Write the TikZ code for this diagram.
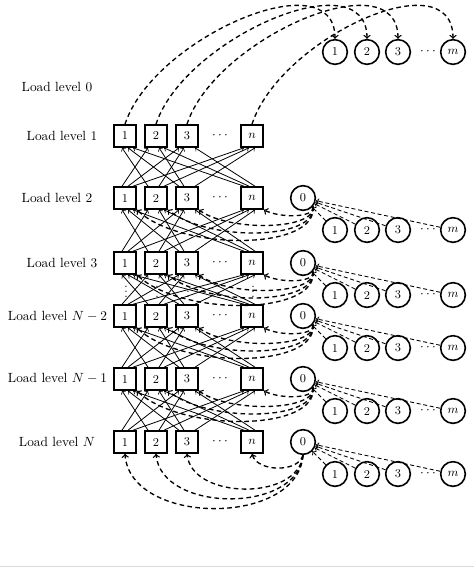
\documentclass[tikz,border=0pt]{standalone}
\usetikzlibrary{calc}
\begin{document}
\begin{tikzpicture}[x=0.75pt,y=-0.75pt,
  sq/.style={draw,line width=1.2pt,minimum size=16.5pt,inner sep=0pt,font=\small},
  cir/.style={draw,circle,line width=1.2pt,minimum size=18.5pt,inner sep=0pt,font=\small},
  lbl/.style={font=\normalsize,inner sep=0pt},
  dotsn/.style={inner sep=0pt},
  vdotsn/.style={inner sep=0pt,font=\small},
  arr/.style={->,line width=0.6pt},
  dsh/.style={->,line width=1pt,dash pattern=on 3.5pt off 2.5pt},
  thd/.style={->,line width=0.65pt,dash pattern=on 3pt off 2pt},
]
\useasboundingbox (0,0) rectangle (474,568);

% labels
\node[lbl] (l0) at (57,87) {Load level 0};
\node[lbl] (l1) at (62,136) {Load level 1};
\node[lbl] (l2) at (57,198) {Load level 2};
\node[lbl] (l3) at (62,263) {Load level 3};
\node[lbl] (l4) at (57.5,316) {Load level $N-2$};
\node[lbl] (l5) at (57.5,378) {Load level $N-1$};
\node[lbl] (l6) at (57,442) {Load level $N$};

% top circles (load level 0)
\foreach \i/\x/\t in {1/335/1,2/367/2,3/398/3,4/453/$m$}{
  \node[cir] (t-\i) at (\x,52) {\t};
}
\node[dotsn] (td) at (428,52) {$\cdots$};

% squares
\foreach \l/\y in {1/136,2/198,3/263,4/316,5/379,6/442}{
  \foreach \i/\x/\t in {1/125/1,2/156/2,3/187/3,4/252/$n$}{
    \node[sq] (s-\l-\i) at (\x,\y) {\t};
  }
  \node[dotsn] (sd-\l) at (220,\y) {$\cdots$};
}

% vertical dots
\foreach \i/\x in {1/126,2/157,3/188,4/253}{
  \node[vdotsn] (vd-\i) at (\x,288) {$\vdots$};
}

% circle 0 and circles 1..m
\foreach \l/\y in {2/198,3/263,4/316,5/379,6/442}{
  \node[cir] (z-\l) at (303,\y) {0};
  \foreach \i/\x/\t in {1/335/1,2/367/2,3/398/3,4/453/$m$}{
    \node[cir] (c-\l-\i) at (\x,\y+32) {\t};
  }
  \node[dotsn] (cd-\l) at (428,\y+32) {$\cdots$};
}

% solid arrows between levels
\foreach \u in {1,...,5}{
  \pgfmathtruncatemacro\lo{\u+1}
  \foreach \i/\oi in {1/-8,2/-3,3/3,4/8}{
    \foreach \j/\oj in {1/-8,2/-3,3/3,4/8}{
      \ifnum\i=\j\relax\else
        \draw[arr] ($(s-\lo-\i.north)+(\oj,0)$) -- ($(s-\u-\j.south)+(\oi,0)$);
      \fi
    }
  }
}

% level 1 -> level 0
\foreach \i in {1,...,4}{
  \draw[dsh] (s-1-\i.north) .. controls +(28,-86) and +(0,-80) .. (t-\i.north);
}

% middle levels: circle 0 -> squares
\foreach \l in {2,3,4,5}{
  \draw[dsh] (z-\l.-40) .. controls +(2,12) and +(15,8) .. (s-\l-4.south east);
  \draw[dsh] (z-\l.-40) .. controls +(3,24) and +(30,22) .. (s-\l-3.south east);
  \draw[dsh] (z-\l.-40) .. controls +(4,34) and +(40,32) .. (s-\l-2.south east);
  \draw[dsh] (z-\l.-40) .. controls +(5,44) and +(45,42) .. (s-\l-1.south east);
}

% bottom level: circle 0 -> squares
\draw[dsh] (z-6.south) .. controls +(-5,72) and +(5,72) .. (s-6-1.south);
\draw[dsh] (z-6.south) .. controls +(-5,59) and +(5,59) .. (s-6-2.south);
\draw[dsh] (z-6.south) .. controls +(-5,46) and +(5,46) .. (s-6-3.south);
\draw[dsh] (z-6.south) .. controls +(-5,18) and +(5,18) .. (s-6-4.south);

% circles 1..m -> circle 0
\foreach \l in {2,...,6}{
  \foreach \i in {1,...,4}{
    \draw[thd] (c-\l-\i) -- (z-\l);
  }
}

% faint frame line
\draw[black!15,line width=0.6pt] (0,566) -- (474,566);
\end{tikzpicture}
\end{document}
